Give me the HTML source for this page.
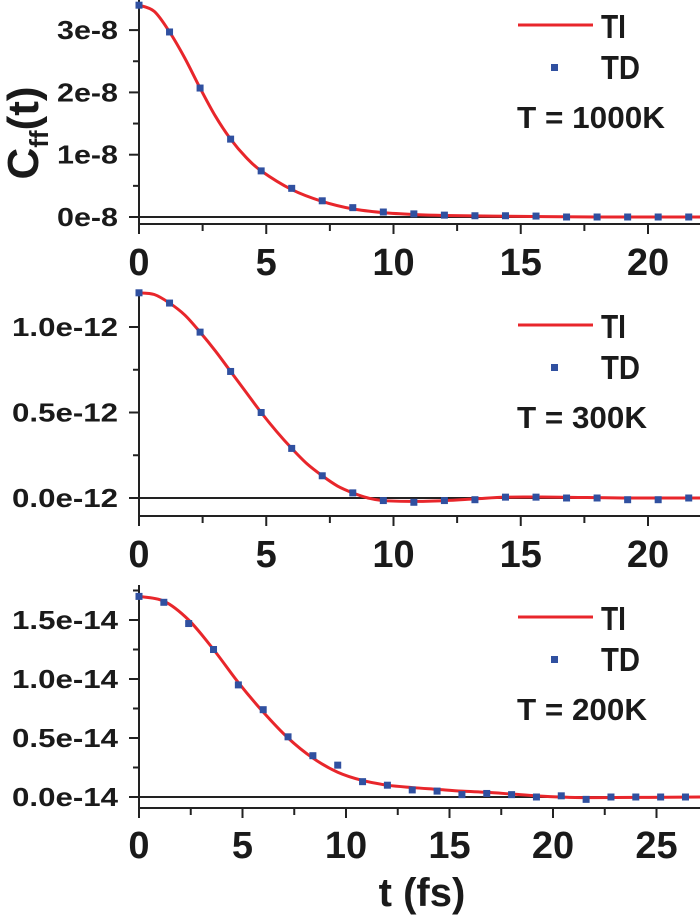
<!DOCTYPE html>
<html><head><meta charset="utf-8"><style>
html,body{margin:0;padding:0;background:#fff}
svg{display:block}
text{font-family:"Liberation Sans",Arial,sans-serif;font-weight:bold;fill:#1a1a1a}
</style></head><body>
<svg id="s" width="700" height="915" viewBox="0 0 700 915" xmlns="http://www.w3.org/2000/svg"></svg>
<script>
const S=document.getElementById('s');
let h='';
function P(cfg){
 const {x0,ux,y0,uy,top,bot,ticks,minor,xt,xminor,lab,curve,pts,leg,tw}=cfg;
 const X=t=>x0+t*ux, Y=v=>y0-v*uy;
 h+=`<line x1="${x0}" y1="${y0}" x2="700" y2="${y0}" stroke="#222" stroke-width="2"/>`;
 h+=`<line x1="${x0}" y1="${top}" x2="${x0}" y2="${bot+10}" stroke="#222" stroke-width="2"/>`;
 h+=`<line x1="${x0}" y1="${bot}" x2="700" y2="${bot}" stroke="#222" stroke-width="2"/>`;
 ticks.forEach(([v,l])=>{h+=`<line x1="${x0-10}" y1="${Y(v)}" x2="${x0}" y2="${Y(v)}" stroke="#222" stroke-width="2"/><text x="${118-tw}" y="${Y(v)+9}" font-size="26" textLength="${tw}" lengthAdjust="spacingAndGlyphs">${l}</text>`;});
 minor.forEach(v=>{h+=`<line x1="${x0-6}" y1="${Y(v)}" x2="${x0}" y2="${Y(v)}" stroke="#222" stroke-width="2"/>`;});
 xt.forEach(t=>{h+=`<line x1="${X(t)}" y1="${bot}" x2="${X(t)}" y2="${bot+10}" stroke="#222" stroke-width="2"/><text x="${X(t)}" y="${lab}" font-size="38" text-anchor="middle">${t}</text>`;});
 xminor.forEach(t=>{h+=`<line x1="${X(t)}" y1="${bot}" x2="${X(t)}" y2="${bot+7}" stroke="#222" stroke-width="2"/>`;});
 let d='';const c=curve.map(([t,v])=>[X(t),Y(v)]);
 d='M'+c[0][0]+' '+c[0][1];
 for(let i=0;i<c.length-1;i++){const p0=c[i-1]||c[i],p1=c[i],p2=c[i+1],p3=c[i+2]||c[i+1];
  d+=` C${p1[0]+(p2[0]-p0[0])/6} ${p1[1]+(p2[1]-p0[1])/6} ${p2[0]-(p3[0]-p1[0])/6} ${p2[1]-(p3[1]-p1[1])/6} ${p2[0]} ${p2[1]}`;}
 h+=`<path d="${d}" fill="none" stroke="#e8262b" stroke-width="3"/>`;
 pts.forEach(([t,v])=>{h+=`<rect x="${X(t)-3.5}" y="${Y(v)-3.5}" width="7" height="7" fill="#3050a0"/>`;});
 const [ly,T]=leg;
 h+=`<line x1="518" y1="${ly}" x2="593" y2="${ly}" stroke="#e8262b" stroke-width="3"/><text x="601" y="${ly+13}" font-size="33" textLength="25" lengthAdjust="spacingAndGlyphs">TI</text>`;
 h+=`<rect x="551" y="${ly+39}" width="7" height="7" fill="#3050a0"/><text x="601" y="${ly+54}" font-size="33" textLength="39" lengthAdjust="spacingAndGlyphs">TD</text>`;
 h+=`<text x="517" y="${ly+103}" font-size="31" textLength="${T.length>4?148:130}" lengthAdjust="spacingAndGlyphs">T = ${T}</text>`;
}
P({x0:139,ux:25.45,y0:217,uy:62.3,top:0,bot:224,tw:61,ticks:[[0,'0e-8'],[1,'1e-8'],[2,'2e-8'],[3,'3e-8']],minor:[0.5,1.5,2.5],
 xt:[0,5,10,15,20],xminor:[2.5,7.5,12.5,17.5],lab:275,
 curve:[[0,3.4],[0.6,3.3],[1.2,2.97],[1.8,2.55],[2.4,2.07],[3,1.62],[3.6,1.25],[4.2,0.96],[4.8,0.74],[6,0.44],[7.2,0.25],[8.4,0.13],[9.6,0.07],[10.8,0.04],[12,0.025],[15,0.01],[18,0.0],[22.5,0]],
 pts:[[0,3.4],[1.2,2.97],[2.4,2.07],[3.6,1.25],[4.8,0.74],[6,0.46],[7.2,0.26],[8.4,0.15],[9.6,0.08],[10.8,0.05],[12,0.03],[13.2,0.02],[14.4,0.02],[15.6,0.015],[16.8,0.0],[18,0.0],[19.2,0],[20.4,0],[21.6,0]],
 leg:[25,'1000K']});
P({x0:139,ux:25.45,y0:498,uy:171,top:290,bot:516,tw:106,ticks:[[0,'0.0e-12'],[0.5,'0.5e-12'],[1,'1.0e-12']],minor:[0.25,0.75],
 xt:[0,5,10,15,20],xminor:[2.5,7.5,12.5,17.5],lab:567,
 curve:[[0,1.2],[0.6,1.19],[1.2,1.14],[1.8,1.07],[2.4,0.97],[3,0.86],[3.6,0.74],[4.2,0.62],[4.8,0.5],[5.4,0.39],[6,0.29],[6.6,0.2],[7.2,0.13],[7.8,0.07],[8.4,0.03],[9,0.0],[9.6,-0.015],[10.8,-0.02],[12,-0.015],[13.2,-0.005],[14.4,0.005],[15.6,0.006],[17,0.004],[19,0.0],[22.5,0]],
 pts:[[0,1.2],[1.2,1.14],[2.4,0.97],[3.6,0.74],[4.8,0.5],[6,0.29],[7.2,0.13],[8.4,0.03],[9.6,-0.015],[10.8,-0.025],[12,-0.015],[13.2,-0.01],[14.4,0.005],[15.6,0.005],[16.8,0.0],[18,0.0],[19.2,-0.01],[20.4,-0.01],[21.6,0]],
 leg:[325,'300K']});
P({x0:139,ux:20.7,y0:797,uy:118,top:585,bot:808,tw:106,ticks:[[0,'0.0e-14'],[0.5,'0.5e-14'],[1,'1.0e-14'],[1.5,'1.5e-14']],minor:[0.25,0.75,1.25,1.75],
 xt:[0,5,10,15,20,25],xminor:[2.5,7.5,12.5,17.5,22.5],lab:858,
 curve:[[0,1.7],[1.2,1.66],[2.4,1.5],[3.6,1.25],[4.8,0.97],[6,0.72],[7.2,0.5],[8.4,0.33],[9.6,0.21],[10.8,0.14],[12,0.1],[13.2,0.08],[14.4,0.065],[15.6,0.05],[16.8,0.04],[18,0.025],[19.2,0.01],[20.4,0.0],[22,-0.005],[27.5,0]],
 pts:[[0,1.7],[1.2,1.65],[2.4,1.47],[3.6,1.25],[4.8,0.95],[6,0.74],[7.2,0.51],[8.4,0.35],[9.6,0.27],[10.8,0.13],[12,0.1],[13.2,0.06],[14.4,0.05],[15.6,0.02],[16.8,0.03],[18,0.02],[19.2,0.0],[20.4,0.01],[21.6,-0.02],[22.8,0],[24,0],[25.2,0],[26.4,0]],
 leg:[617,'200K']});
h+=`<text transform="translate(38,133) rotate(-90)" font-size="44" text-anchor="middle">C<tspan font-size="26" dy="10">ff</tspan><tspan dy="-10">(t)</tspan></text>`;
h+=`<text x="422" y="906" font-size="40" text-anchor="middle">t (fs)</text>`;
S.innerHTML=h;
</script>
</body></html>
